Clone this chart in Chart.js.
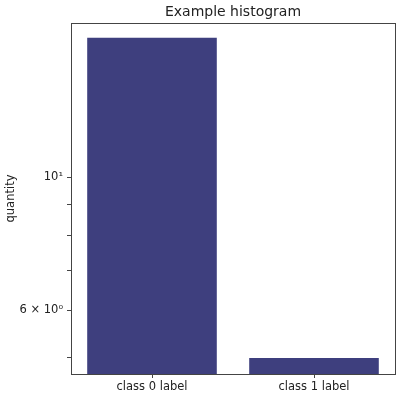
<!DOCTYPE html>
<html>
<head>
<meta charset="utf-8">
<script src="https://cdn.jsdelivr.net/npm/chart.js@4/dist/chart.umd.min.js"></script>
<style>
  body { margin: 0; background: #fff; }
  #chart { display: block; }
</style>
</head>
<body>
<canvas id="chart" width="400" height="403"></canvas>
<script>
const categories = ['class 0 label', 'class 1 label'];
const quantities = [17.1, 5];
const yTicks = [5, 6, 7, 8, 9, 10];
const yTickLabels = { 6: '6 × 10⁰', 10: '10¹' };
const yMin = 4.7;
const yMax = 18.1;

// frame around the plot area plus a title centred over it
const framePlugin = {
    id: 'frame',
    afterDraw(chart) {
        const { ctx, chartArea } = chart;
        ctx.save();
        ctx.strokeStyle = '#444';
        ctx.lineWidth = 1;
        ctx.strokeRect(Math.round(chartArea.left) + 0.5, Math.round(chartArea.top) + 0.5,
            Math.round(chartArea.right - chartArea.left), Math.round(chartArea.bottom - chartArea.top));
        ctx.fillStyle = '#222';
        ctx.font = '14px "DejaVu Sans"';
        ctx.textAlign = 'center';
        ctx.textBaseline = 'middle';
        ctx.fillText('Example histogram', (chartArea.left + chartArea.right) / 2, 12);
        ctx.restore();
    }
};

const ctx = document.getElementById('chart').getContext('2d');
new Chart(ctx, {
    type: 'bar',
    data: {
        labels: categories,
        datasets: [{
            data: quantities,
            backgroundColor: '#3e3f7e',
            borderWidth: 0,
            barPercentage: 0.8,
            categoryPercentage: 1.0
        }]
    },
    options: {
        responsive: false,
        animation: false,
        layout: { padding: { top: 23, right: 5, left: 0, bottom: 0 } },
        plugins: {
            legend: { display: false },
            title: { display: false },
            tooltip: { enabled: false }
        },
        scales: {
            x: {
                afterFit(scale) { scale.height = 29; },
                grid: { display: true, drawOnChartArea: false, offset: false, tickLength: 4, tickColor: '#444' },
                border: { display: false },
                ticks: { color: '#222', font: { family: 'DejaVu Sans', size: 11.5 }, padding: 2, maxRotation: 0 }
            },
            y: {
                type: 'logarithmic',
                min: yMin,
                max: yMax,
                afterFit(scale) { scale.width = 71; },
                afterBuildTicks(scale) {
                    scale.ticks = yTicks.map(v => ({ value: v }));
                },
                grid: { display: true, drawOnChartArea: false, tickLength: 4, tickColor: '#444' },
                border: { display: false },
                ticks: {
                    color: '#222',
                    font: { family: 'DejaVu Sans', size: 11.5 },
                    padding: 4,
                    autoSkip: false,
                    callback: value => yTickLabels[value] || ''
                },
                title: {
                    display: true,
                    text: 'quantity',
                    color: '#222',
                    font: { family: 'DejaVu Sans', size: 11.5 },
                    padding: { top: 4, bottom: 0 }
                }
            }
        }
    },
    plugins: [framePlugin]
});
</script>
</body>
</html>
